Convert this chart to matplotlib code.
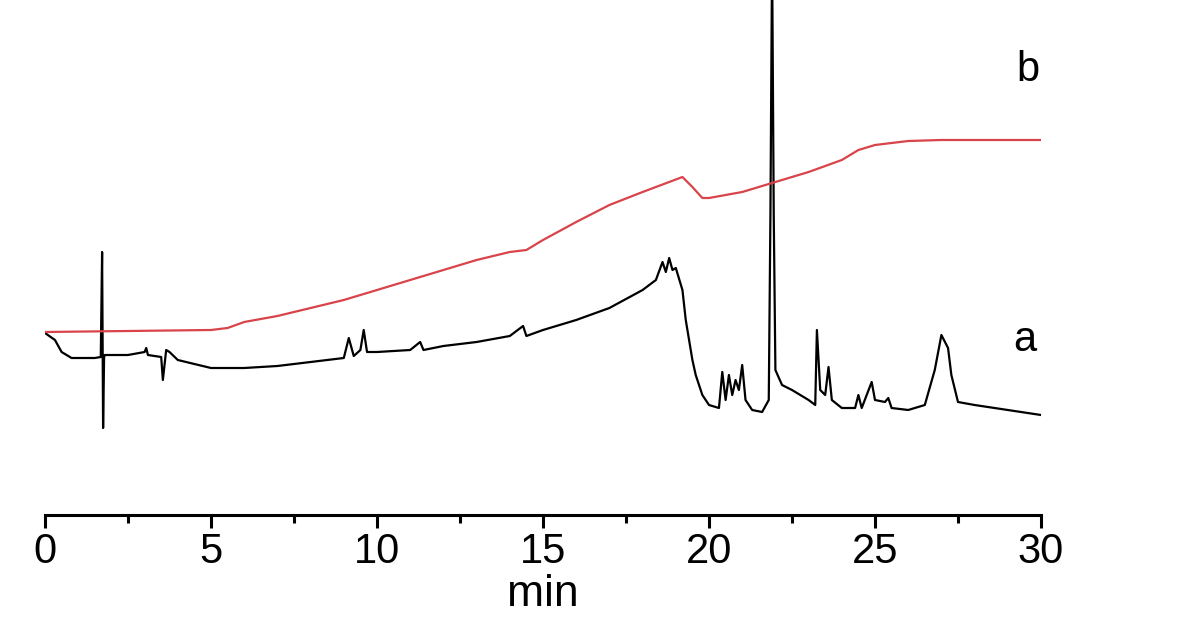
import matplotlib
matplotlib.use("Agg")
import matplotlib.pyplot as plt
from matplotlib.ticker import MultipleLocator

plt.rcParams['font.family'] = ['Liberation Sans', 'DejaVu Sans']

# trace a (black): time (min), signal (arbitrary units)
a_t = [0,0.3,0.5,0.8,1.5,1.68,1.72,1.75,1.78,1.8,2.5,3.0,3.05,3.1,3.5,3.55,3.65,3.75,4,5,6,7,8,9,9.15,9.3,9.5,9.6,9.7,10,11,11.3,11.4,12,13,14,14.4,14.5,15,16,17,18,18.4,18.6,18.7,18.8,18.9,19.0,19.2,19.3,19.5,19.6,19.8,20,20.3,20.4,20.5,20.6,20.7,20.8,20.9,21.0,21.1,21.3,21.6,21.8,21.85,21.9,21.95,22.0,22.2,22.5,23,23.2,23.25,23.35,23.5,23.6,23.7,24,24.4,24.5,24.6,24.9,25.0,25.3,25.4,25.5,26,26.5,26.8,27.0,27.2,27.3,27.5,28,29,30]
a_y = [182,175,163,157,157,158,263,87,158,160,160,163,167,160,158,135,165,163,155,147,147,149,153,157,177,159,165,185,163,163,165,173,165,169,173,179,189,179,185,195,207,225,235,253,243,257,245,247,225,195,155,140,120,110,107,143,115,140,120,135,125,150,115,105,103,115,300,560,300,145,130,125,115,110,185,125,120,148,115,107,107,120,107,133,115,113,117,107,105,110,145,180,167,140,113,110,105,100]
# trace b (red)
b_t = [0,5,5.5,6,7,8,9,10,11,12,13,14,14.5,15,16,17,18,19.2,19.5,19.8,20.0,21,22,23,24,24.5,25,26,27,30]
b_y = [183,185,187,193,199,207,215,225,235,245,255,263,265,275,293,310,323,338,328,317,317,323,333,343,355,365,370,374,375,375]

fig = plt.figure(figsize=(12, 6.3), dpi=100)
ax = fig.add_axes([45/1200, 115/630, 996/1200, 515/630])
ax.plot(a_t, a_y, color="black", lw=1.6)
ax.plot(b_t, b_y, color="#d9434a", lw=1.6)
ax.set_xlim(0, 30)
ax.set_ylim(0, 515)
for s in ["left", "right", "top"]:
    ax.spines[s].set_visible(False)
ax.spines["bottom"].set_linewidth(2.2)
ax.set_yticks([])
ax.xaxis.set_major_locator(MultipleLocator(5))
ax.xaxis.set_minor_locator(MultipleLocator(2.5))
ax.tick_params(axis="x", which="major", direction="out", length=9, width=2.2, labelsize=30, pad=3)
ax.tick_params(axis="x", which="minor", direction="out", length=6, width=2.2)
ax.set_xlabel("min", fontsize=32, labelpad=2)
ax.text(29.6, 445, "b", fontsize=30, ha="center", va="center")
ax.text(29.5, 175, "a", fontsize=30, ha="center", va="center")
fig.savefig("out.png", dpi=100)
